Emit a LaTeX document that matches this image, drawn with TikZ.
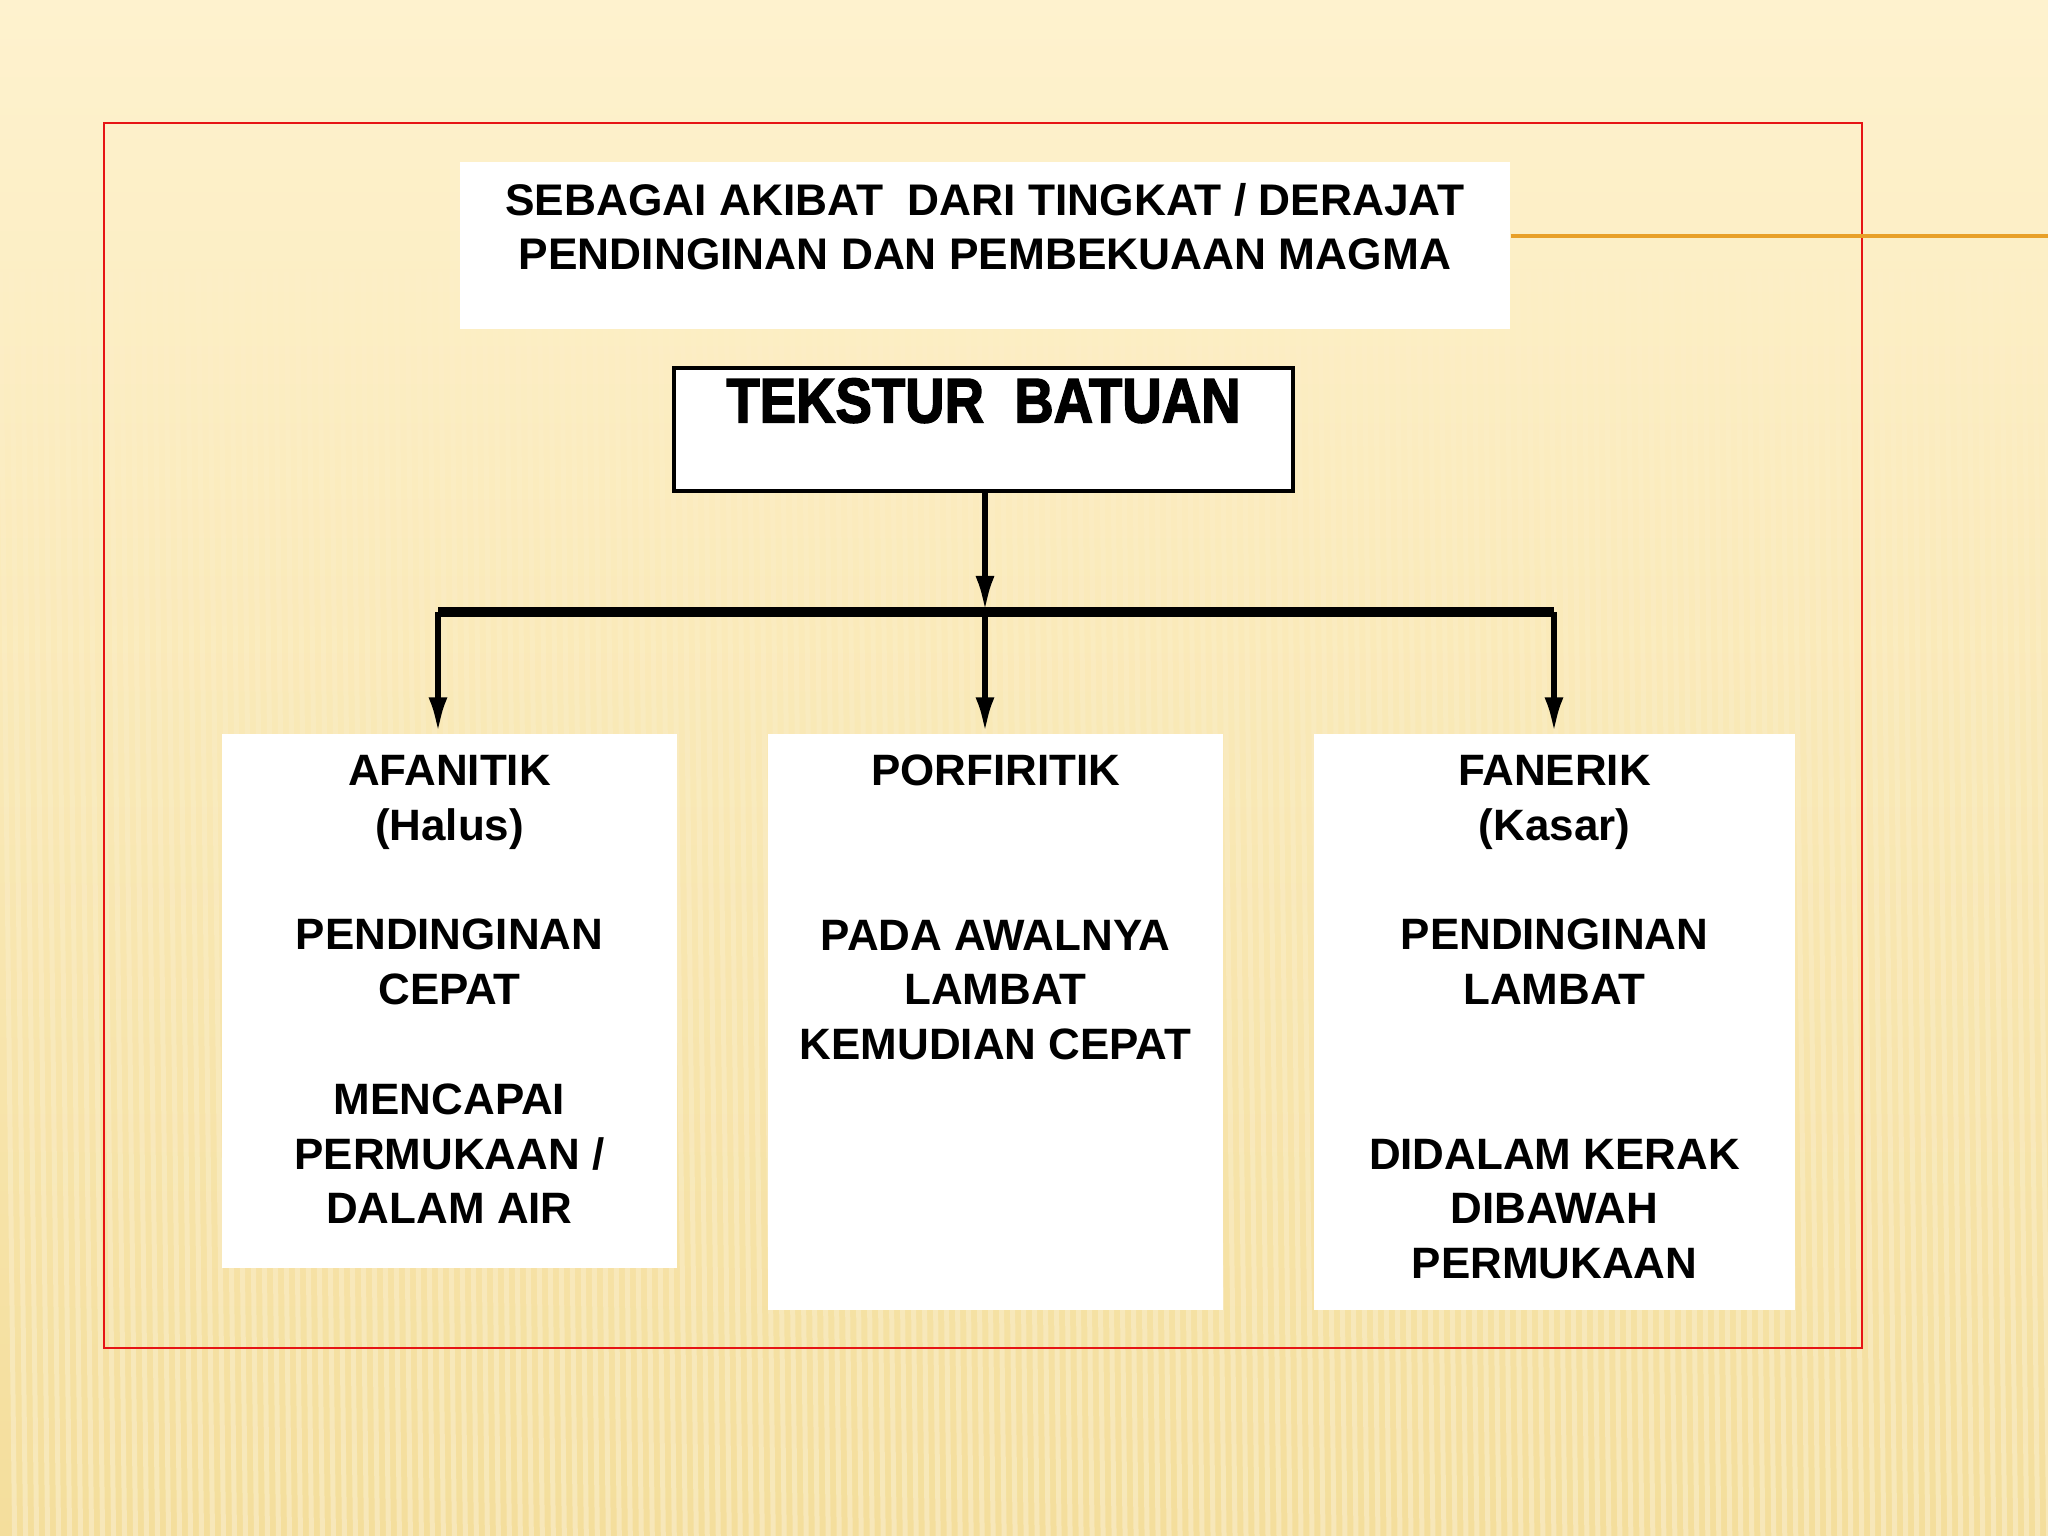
\documentclass[tikz,border=0pt]{standalone}
\usepackage{fontspec}
\setmainfont{Liberation Sans}
\newfontfamily\hitam{Liberation Sans}[BoldFeatures={FakeBold=2.5}]
\usetikzlibrary{arrows.meta,positioning,fadings}

\definecolor{krem}{RGB}{254,242,206}
\definecolor{kremtua}{RGB}{244,222,156}
\definecolor{bingkai}{RGB}{230,20,20}
\definecolor{jingga}{RGB}{232,160,40}

\tikzset{
  kotak/.style={fill=white, inner sep=0pt},
  isi/.style={anchor=north, align=center, inner sep=0pt, font=\bfseries\fontsize{12.5}{15.6}\selectfont},
  panah/.style={line width=1.7pt, -{Latex[length=0.36cm,width=0.19cm]}}
}

\begin{document}
\begin{tikzpicture}[x=1cm,y=-1cm]
\useasboundingbox (0,0) rectangle (20.48,15.36);
\shade[top color=krem, bottom color=kremtua] (0,0) rectangle (20.48,15.36);
% garis halus latar
\draw[white, opacity=0.3, line width=0.5mm, path fading=north]
  \foreach \x in {0,0.11,...,20.48} {(\x,2.0) -- (\x+0.15,15.36)};

% bingkai merah
\draw[bingkai, line width=0.6pt] (1.04,1.23) rectangle (18.62,13.48);

% judul atas
\node[kotak, minimum width=10.50cm, minimum height=1.67cm] (sebab) at (9.85,2.455) {};
\node[isi, font=\bfseries\fontsize{12.6}{15.6}\selectfont] (sebabteks) at ([yshift=-0.21cm]sebab.north)
  {SEBAGAI AKIBAT \ DARI TINGKAT / DERAJAT\\PENDINGINAN DAN PEMBEKUAAN MAGMA};
\coordinate (ujung) at (20.48,2.36);
\draw[jingga, line width=1pt] (sebab.east |- ujung) -- (ujung);

% tekstur batuan
\node[kotak, draw, line width=1.3pt, minimum width=6.19cm, minimum height=1.23cm] (tekstur) at (9.835,4.295) {};
\node[isi] (teksturteks) at ([yshift=-0.12cm]tekstur.north)
  {\scalebox{0.97}[1.12]{\hitam\bfseries\fontsize{16}{18}\selectfont TEKSTUR \ BATUAN}};

% cabang
\coordinate (cabang) at (9.85,6.12);
\coordinate (cabkiri) at (4.38,6.12);
\coordinate (cabkanan) at (15.54,6.12);
\draw[panah] (tekstur.south -| cabang) -- (cabang);
\draw[line width=2.8pt] (cabkiri) -- (cabkanan);

% tiga kotak
\node[kotak, minimum width=4.55cm, minimum height=5.34cm] (afanitik) at (4.495,10.01) {};
\node[kotak, minimum width=4.55cm, minimum height=5.76cm] (porfiritik) at (9.955,10.22) {};
\node[kotak, minimum width=4.81cm, minimum height=5.76cm] (fanerik) at (15.545,10.22) {};

\draw[panah] (cabkiri) -- (afanitik.north -| cabkiri);
\draw[panah] (cabang) -- (porfiritik.north -| cabang);
\draw[panah] (cabkanan) -- (fanerik.north -| cabkanan);

\node[isi] (afanitikteks) at ([yshift=-0.21cm]afanitik.north)
  {AFANITIK\\(Halus)\\~\\PENDINGINAN\\CEPAT\\~\\MENCAPAI\\PERMUKAAN /\\DALAM AIR};
\node[isi] (porfiritikteks) at ([yshift=-0.21cm]porfiritik.north)
  {PORFIRITIK\\~\\~\\PADA AWALNYA\\LAMBAT\\KEMUDIAN CEPAT};
\node[isi] (fanerikteks) at ([yshift=-0.21cm]fanerik.north)
  {FANERIK\\(Kasar)\\~\\PENDINGINAN\\LAMBAT\\~\\~\\DIDALAM KERAK\\DIBAWAH\\PERMUKAAN};
\end{tikzpicture}
\end{document}
